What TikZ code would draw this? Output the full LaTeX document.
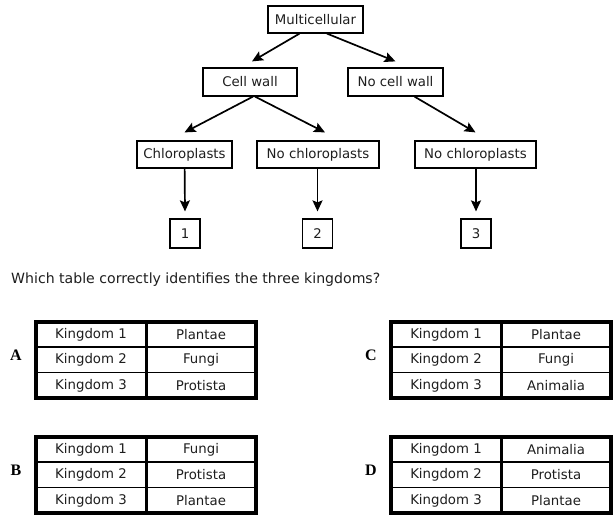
\documentclass[tikz,border=0pt]{standalone}
\usepackage{fontspec}
\setmainfont{DejaVu Sans}
\newfontfamily\harfYazi{Liberation Serif}
\usepackage{tikz}
\usetikzlibrary{arrows.meta,calc}
\definecolor{metin}{HTML}{1E1E1E}

\begin{document}
\begin{tikzpicture}[x=1pt,y=-1pt,
  kutu/.style={draw,line width=1.2pt,minimum height=27pt,inner sep=0pt,text=metin,font=\fontsize{13.3}{16}\selectfont},
  numara/.style={kutu,minimum width=30pt,minimum height=29pt},
  ok/.style={line width=1.7pt,-{Stealth[length=11pt,width=10pt,inset=2pt]}},
  hucre/.style={inner sep=0pt,text=metin,font=\fontsize{13.3}{16}\selectfont},
  harf/.style={inner sep=0pt,font=\fontsize{16}{18}\harfYazi\bfseries}]
\useasboundingbox (0,0) rectangle (615,519);
% agac
\node[kutu,minimum width=95pt] (multi) at (315.5,19.5) {Multicellular};
\node[kutu,minimum width=94pt,minimum height=28pt] (cellwall) at (250,82) {Cell wall};
\node[kutu,minimum width=95pt,minimum height=28pt] (nocellwall) at (395.5,82) {No cell wall};
\node[kutu,minimum width=95pt] (chloro) at (184.5,154.5) {Chloroplasts};
\node[kutu,minimum width=122pt] (nochloroA) at (318,154.5) {No chloroplasts};
\node[kutu,minimum width=121pt] (nochloroB) at (475.5,154.5) {No chloroplasts};
\node[numara] (bir) at (185,233.5) {1};
\node[numara] (iki) at (317.5,233.5) {2};
\node[numara] (uc) at (476,233.5) {3};
% oklar
\draw[ok] ([xshift=-16pt]multi.south) -- ([xshift=2pt,yshift=6pt]cellwall.north);
\draw[ok] ([xshift=11.5pt]multi.south) -- ([yshift=6pt]nocellwall.north);
\draw[ok] ([xshift=3pt]cellwall.south) -- ([yshift=8pt]chloro.north);
\draw[ok] ([xshift=5pt]cellwall.south) -- ([xshift=7pt,yshift=8pt]nochloroA.north);
\draw[ok] ([xshift=19pt]nocellwall.south) -- ([yshift=8pt]nochloroB.north);
\draw[ok] (chloro) -- ([yshift=7pt]bir.north);
\draw[ok] (nochloroA.south -| iki) -- ([yshift=7pt]iki.north);
\draw[ok] (nochloroB.south -| uc) -- ([yshift=7pt]uc.north);
% soru
\node[hucre,anchor=west,font=\fontsize{14.1}{17}\selectfont] (soru) at (11,280) {Which table correctly identifies the three kingdoms?};
% tablolar
\foreach \h/\tx/\ty/\ka/\kb/\kc in {A/36/322/Plantae/Fungi/Protista,
    C/391/322/Plantae/Fungi/Animalia,
    B/36/437/Fungi/Protista/Plantae,
    D/391/437/Animalia/Protista/Plantae}{
  \draw[line width=1.6pt] (\tx,\ty+25) -- ++(220,0);
  \draw[line width=1.6pt] (\tx,\ty+50.5) -- ++(220,0);
  \draw[line width=3pt] (\tx+110,\ty) -- ++(0,76);
  \draw[line width=3.5pt] (\tx,\ty) rectangle ++(220,76);
  \node[harf] (lab\h) at (\tx-20,\ty+33) {\h};
  \node[hucre] (k\h1) at (\tx+55,\ty+12.5) {Kingdom 1};
  \node[hucre] (k\h2) at (\tx+55,\ty+38) {Kingdom 2};
  \node[hucre] (k\h3) at (\tx+55,\ty+63.5) {Kingdom 3};
  \node[hucre] (v\h1) at (\tx+165,\ty+12.5) {\ka};
  \node[hucre] (v\h2) at (\tx+165,\ty+38) {\kb};
  \node[hucre] (v\h3) at (\tx+165,\ty+63.5) {\kc};
}
\end{tikzpicture}
\end{document}
